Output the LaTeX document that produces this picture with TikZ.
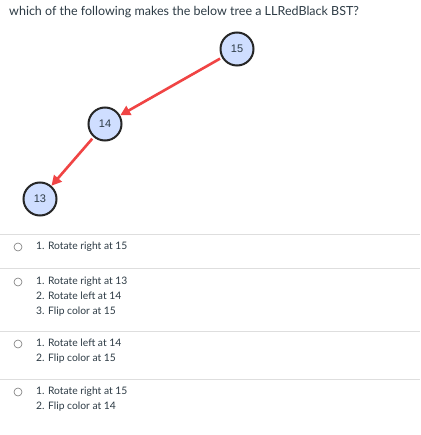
\documentclass[tikz,border=0pt]{standalone}
\usepackage{fontspec}
\setmainfont{Lato}
\newfontfamily\nodefont{Liberation Sans}
\usetikzlibrary{positioning,arrows.meta}
\definecolor{textgray}{RGB}{45,59,69}
\definecolor{nodeblue}{RGB}{207,222,255}
\definecolor{edgered}{RGB}{240,68,68}
\definecolor{rulegray}{RGB}{222,222,222}
\definecolor{radiogray}{RGB}{120,120,120}
\tikzset{treenode/.style={circle, draw=black!85, line width=2pt, fill=nodeblue,
    minimum size=33pt, inner sep=0pt, text=textgray,
    font={\nodefont\fontsize{11}{13}\selectfont}},
  treeedge/.style={-{Triangle[length=10pt,width=10pt]}, draw=edgered,
    line width=2.6pt, shorten <=2pt},
  radio/.style={circle, draw=radiogray, line width=0.6pt, minimum size=8pt, inner sep=0pt},
  choice/.style={anchor=north west, inner sep=0pt, align=left, text=textgray,
    font={\fontsize{10.3}{15}\selectfont}}}

\begin{document}
\begin{tikzpicture}[x=1pt,y=-1pt,
    rule/.style={draw=rulegray, line width=0.8pt}
  ]
  \fill[white] (0,0) rectangle (420,435);
  \useasboundingbox (0,0) rectangle (420,435);

  % question
  \node[anchor=base west, inner sep=0pt, text=textgray,
    font={\fontsize{12.5}{15}\selectfont}] (question) at (9,16)
    {which of the following makes the below tree a LLRedBlack BST?};

  %% tree
  \node[treenode] (n15) at (237,49) {15};
  \node[treenode] (n14) at (105,124) {14};
  \node[treenode] (n13) at (40,199) {13};

  \draw[treeedge] (n15) -- (n14);
  \draw[treeedge] (n14) -- (n13);

  %% answers
  \draw[rule] (0,234) -- (420,234);
  \draw[rule] (0,268) -- (420,268);
  \draw[rule] (0,331) -- (420,331);
  \draw[rule] (0,379) -- (420,379);

  \node[radio] (r1) at (18,247) {};
  \node[radio] (r2) at (18,282) {};
  \node[radio] (r3) at (18,344) {};
  \node[radio] (r4) at (18,392) {};

  \node[choice] (c1) at (36,242) {1. Rotate right at 15};
  \node[choice] (c2) at (36,277) {1. Rotate right at 13\\2. Rotate left at 14\\3. Flip color at 15};
  \node[choice] (c3) at (36,339) {1. Rotate left at 14\\2. Flip color at 15};
  \node[choice] (c4) at (36,387) {1. Rotate right at 15\\2. Flip color at 14};
\end{tikzpicture}
\end{document}
